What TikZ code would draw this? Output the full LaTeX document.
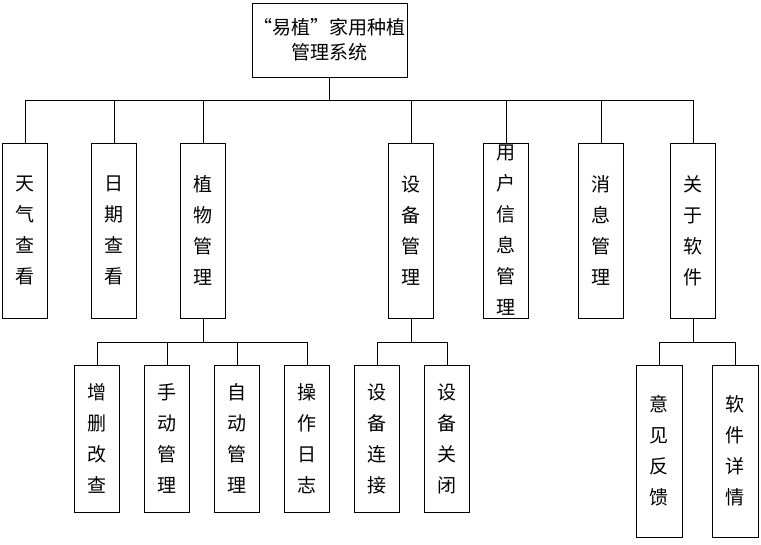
\documentclass[tikz,border=0pt]{standalone}
\usepackage{fontspec}
\newfontfamily\cjk{Noto Sans CJK SC}
\begin{document}
\begin{tikzpicture}[x=1pt,y=-1pt,
  bx/.style={draw,line width=0.9pt,inner sep=0pt,font=\cjk\fontsize{19}{31}\selectfont,align=center},
  ln/.style={line width=0.9pt}]
\useasboundingbox (0,0) rectangle (761,545);
\node[bx,minimum width=155pt,minimum height=74pt,font=\cjk\fontsize{19}{25}\selectfont] (root) at (329.5,40) {“易植”家用种植\\管理系统};
\foreach \n/\x/\t in {a/25/天\\气\\查\\看, b/114/日\\期\\查\\看, c/203/植\\物\\管\\理, d/411/设\\备\\管\\理, e/506/用\\户\\信\\息\\管\\理, f/601/消\\息\\管\\理, g/693/关\\于\\软\\件}
  \node[bx,minimum width=45pt,minimum height=175pt] (\n) at (\x,230.5) {\t};
\foreach \n/\x/\t in {c1/97/增\\删\\改\\查, c2/167/手\\动\\管\\理, c3/237/自\\动\\管\\理, c4/307/操\\作\\日\\志, d1/377/设\\备\\连\\接, d2/447/设\\备\\关\\闭}
  \node[bx,minimum width=45pt,minimum height=147pt] (\n) at (\x,438.5) {\t};
\foreach \n/\x/\t in {g1/659/意\\见\\反\\馈, g2/735/软\\件\\详\\情}
  \node[bx,minimum width=46pt,minimum height=172pt] (\n) at (\x,451) {\t};
\coordinate (h) at (0,100);
\draw[ln] (root.south) -- (root.south |- h);
\draw[ln] (a.north |- h) -- (g.north |- h);
\foreach \n in {a,b,c,d,e,f,g} \draw[ln] (\n.north) -- (\n.north |- h);
\coordinate (k) at (0,342);
\draw[ln] (c.south) -- (c.south |- k);
\draw[ln] (c1.north |- k) -- (c4.north |- k);
\foreach \n in {c1,c2,c3,c4} \draw[ln] (\n.north) -- (\n.north |- k);
\draw[ln] (d.south) -- (d.south |- k);
\draw[ln] (d1.north |- k) -- (d2.north |- k);
\foreach \n in {d1,d2} \draw[ln] (\n.north) -- (\n.north |- k);
\draw[ln] (g.south) -- (g.south |- k);
\draw[ln] (g1.north |- k) -- (g2.north |- k);
\foreach \n in {g1,g2} \draw[ln] (\n.north) -- (\n.north |- k);
\end{tikzpicture}
\end{document}
